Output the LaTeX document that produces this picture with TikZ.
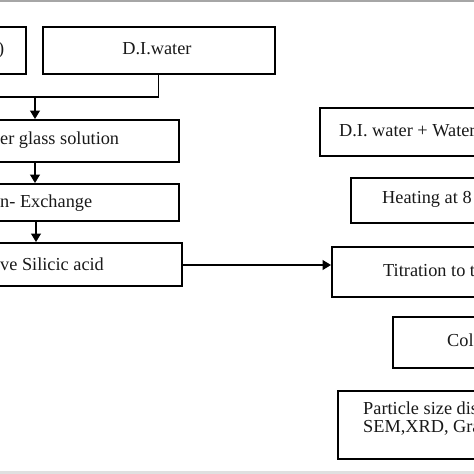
\documentclass[tikz,border=0pt]{standalone}
\usepackage{fontspec}
\setmainfont{Liberation Serif}
\usetikzlibrary{arrows.meta}
\tikzset{
  box/.style={draw=black, line width=1.7pt, inner sep=0pt, fill=white},
  lbl/.style={inner sep=0pt, font=\fontsize{18.3}{19}\selectfont, text=black!90},
  conn/.style={draw=black, line width=1.2pt},
  arr/.style={conn, -{Triangle[length=8.5pt,width=10pt]}}
}
\newcommand{\boxat}[5]{% name, x1, y1, x2, y2
  \node[box, minimum width={(#4)-(#2)}, minimum height={(#5)-(#3)}, anchor=north west] (#1) at (#2,#3) {};}
\begin{document}
\begin{tikzpicture}[x=1pt,y=-1pt]
\useasboundingbox (0,0) rectangle (474,474);
\fill[white] (0,0) rectangle (474,474);
\clip (0,0) rectangle (474,474);
% gray strips
\fill[black!35] (0,0) rectangle (474,2);
\fill[black!12] (0,471) rectangle (474,474);

% left column
\boxat{src}{-60}{26}{25}{73}
\boxat{diw}{42}{26}{274}{73}
\boxat{wg}{-90}{119}{178}{161}
\boxat{ie}{-90}{183}{178}{220}
\boxat{sa}{-90}{242}{181}{285}

% right column
\boxat{dww}{319}{107}{540}{155}
\boxat{heat}{350}{177}{540}{222}
\boxat{tit}{331}{246}{540}{296}
\boxat{col}{392}{316}{540}{367}
\boxat{ps}{337}{390}{540}{458}

% texts
\node[lbl, anchor=east] (tsrc) at (4.5,50) {)};
\node[lbl] (tdiw) at (157,49) {D.I.water};
\node[lbl, anchor=west] (twg) at (0,140) {er glass solution};
\node[lbl, anchor=west] (tie) at (0,203) {n- Exchange};
\node[lbl, anchor=west] (tsa) at (0,264) {ve Silicic acid};
\node[lbl, anchor=west] (tdww) at (339,131) {D.I. water + Water};
\node[lbl, anchor=west] (theat) at (382,199) {Heating at 8};
\node[lbl, anchor=west] (ttit) at (383,271) {Titration to t};
\node[lbl, anchor=west] (tcol) at (447,340) {Col};
\node[lbl, anchor=west, align=left] (tps) at (363,419) {Particle size dis\\[-1pt]SEM,XRD, Gra};

% connectors
\coordinate (j) at (35,97);
\coordinate (jl) at (-10,97);
\draw[conn] (diw.south) |- (jl);
\draw[arr] (j) -- (j |- wg.north);
\draw[arr] (35,161) -- (35,183);
\draw[arr] (36,220) -- (36,242);
\draw[arr] (sa.east |- 0,265) -- (tit.west |- 0,265);
\end{tikzpicture}
\end{document}
